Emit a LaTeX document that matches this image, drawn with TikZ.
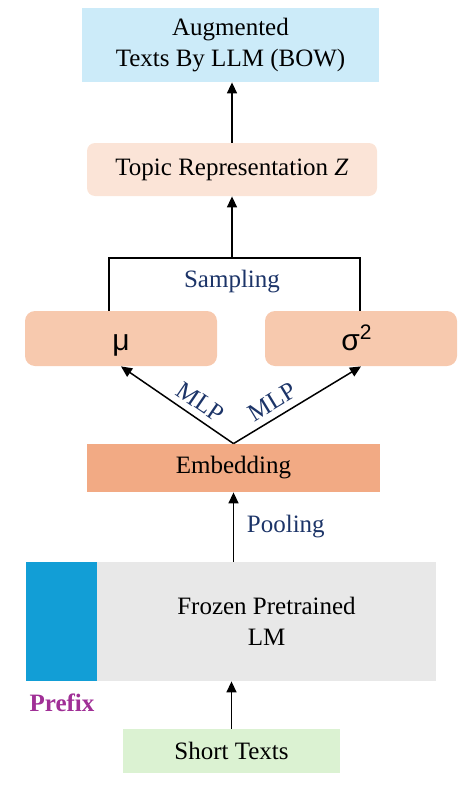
\documentclass[tikz,border=0pt]{standalone}
\usepackage{fontspec}
\setmainfont{Liberation Serif}
\newfontfamily\symfont{Liberation Sans}
\usetikzlibrary{arrows.meta,calc,positioning}
\definecolor{llmblue}{HTML}{CCEBF9}
\definecolor{topicpeach}{HTML}{FBE4D7}
\definecolor{muorange}{HTML}{F7C9AE}
\definecolor{embedorange}{HTML}{F2AA84}
\definecolor{lmgray}{HTML}{E8E8E8}
\definecolor{prefixblue}{HTML}{129ED6}
\definecolor{shortgreen}{HTML}{DBF2D2}
\definecolor{navy}{HTML}{1C3468}
\definecolor{prefixpurple}{HTML}{A02F96}
\tikzset{
	box/.style={inner sep=0pt, align=center, font=\fontsize{12.5}{15.5}\selectfont},
	greekbox/.style={box, fill=muorange, rounded corners=5pt, minimum width=96pt, minimum height=27.5pt, text height=11.5pt, text depth=0pt, font=\symfont\fontsize{15}{17}\selectfont},
	arr/.style={line width=0.75pt, -{Triangle[length=5.5pt,width=5pt]}},
	lbl/.style={text=navy, font=\fontsize{12.5}{15}\selectfont},
}
\begin{document}
\begin{tikzpicture}[x=0.5pt, y=-0.5pt]
		\useasboundingbox (0,0) rectangle (461,787);
		\node[box, fill=llmblue, minimum width=148.5pt, minimum height=37pt] (llm) at (230.5,45) {Augmented\\Texts By LLM (BOW)};
		\node[box, fill=topicpeach, rounded corners=4pt, minimum width=145pt, minimum height=26.5pt] (topic) at (232,169.5) {Topic Representation \textit{Z}};
		\node[greekbox] (mu) at (121,338.5) {μ};
		\node[greekbox] (sigma) at (361,338.5) {\hspace{-4pt}σ\textsuperscript{2}};
		\node[box, fill=embedorange, minimum width=146.5pt, minimum height=24pt] (emb) at (233.5,468) {Embedding};
		\node[box, fill=lmgray, minimum width=169.5pt, minimum height=59.5pt] (lm) at (266.5,621.5) {Frozen Pretrained\\LM};
		\node[box, fill=prefixblue, minimum width=35.5pt, minimum height=59.5pt] (prefix) at (61.5,621.5) {};
		\node[font=\bfseries\fontsize{12.5}{15}\selectfont, text=prefixpurple] (prefixlbl) at (62,703) {Prefix};
		\node[box, fill=shortgreen, minimum width=108.5pt, minimum height=22pt] (short) at (231.5,751) {Short Texts};
		\coordinate (samp) at (232,258);
		\draw[line width=0.6pt] ($(mu.north)+(-12,0)$) |- (samp) -| ($(sigma.north)+(-1,0)$);
		\node[lbl] (samplbl) at (232,282) {Sampling};
		\draw[arr] (samp) -- (topic.south);
		\draw[arr] (topic.north) -- (topic.north |- llm.south);
		\draw[arr] (emb.north) -- node[lbl, sloped, above, pos=0.37] {MLP} (mu.south);
		\draw[arr] (emb.north) -- node[lbl, sloped, above, pos=0.37] {MLP} (sigma.south);
		\draw[arr] (emb.south |- lm.north) -- node[lbl, right=3pt] {Pooling} (emb.south);
		\draw[arr] (short.north) -- (short.north |- lm.south);
	\end{tikzpicture}
\end{document}
